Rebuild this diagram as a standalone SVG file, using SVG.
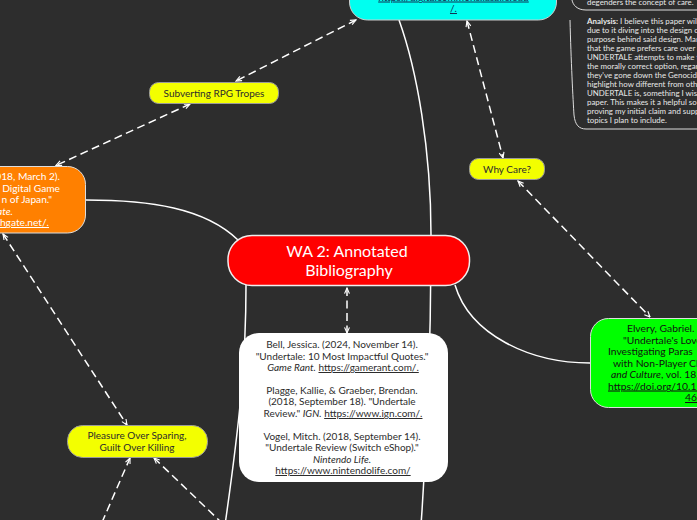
<svg xmlns="http://www.w3.org/2000/svg" width="697" height="520" viewBox="0 0 697 520">
<style>
text{font-family:"Lato","Noto Sans","Liberation Sans",sans-serif;text-anchor:middle}
.n{font-size:10px;fill:#2c2c2c}
.w{font-size:10.2px;fill:#fff;text-anchor:end}
.k{font-size:10.3px;fill:#111;text-anchor:start}
.y{fill:#f3ff00;stroke:#9a9a9a;stroke-width:1}
.a{font-size:7.9px;fill:#e8e8e8;text-anchor:start}
.c{fill:none;stroke:#fff;stroke-width:1.5}
.d{fill:none;stroke:#fff;stroke-width:1.5;stroke-dasharray:8 4.500;marker-start:url(#h);marker-end:url(#h)}
</style>
<defs>
<marker id="h" viewBox="0 0 10 10" refX="9" refY="5" markerWidth="7" markerHeight="7" markerUnits="userSpaceOnUse" orient="auto-start-reverse"><path d="M1 1.500L9 5L1 8.500" fill="none" stroke="#fff" stroke-width="1.6"/></marker>
</defs>
<rect width="697" height="520" fill="#2d2d2d"/>
<g id="connectors">
<path class="c" d="M86 200C150 200 205 208 238 240"/>
<path class="c" d="M246 285C246 360 240 420 225 525"/>
<path class="c" d="M399 20C417 70 431 150 431 235C431 300 430 400 421 525"/>
<path class="c" d="M455 285C470 335 530 363 590 363"/>
<path class="d" d="M347 288V333"/>
<path class="d" d="M467 21L503 158"/>
<path class="d" d="M518 181L650 317"/>
<path class="d" d="M356 20L236 81"/>
<path class="d" d="M190 104L56 165.500"/>
<path class="d" d="M3 234L127 425"/>
<path class="d" d="M130 458L90 550"/>
<path class="d" d="M154 458L245 545"/>
</g>
<g id="node-top">
<rect x="349.500" y="-60" width="207" height="80" rx="18" fill="#00fff0" stroke="#ccc"/>
<text font-size="10.200" fill="#135" text-decoration="underline" x="453.500" y="0.500">https://digitalcommons.lasalle.edu</text>
<text font-size="10.200" fill="#135" text-decoration="underline" x="453.500" y="12">/.</text>
</g>
<g id="node-panel">
<path d="M572 0C573 5 577 10 586 10H697" fill="none" stroke="#ddd"/>
<path d="M570 20C571 60 573 100 574 115C575 125 579 129 586 129H697" fill="none" stroke="#ddd"/>
<text class="a" x="587" y="5">degenders the concept of care.</text>
<text class="a" x="587" y="24"><tspan font-weight="700">Analysis:</tspan> I believe this paper will</text>
<text class="a" x="587" y="33">due to it diving into the design of</text>
<text class="a" x="587" y="42">purpose behind said design. Mar</text>
<text class="a" x="587" y="51">that the game prefers care over</text>
<text class="a" x="587" y="60">UNDERTALE attempts to make th</text>
<text class="a" x="587" y="69">the morally correct option, regar</text>
<text class="a" x="587" y="78">they've gone down the Genocide</text>
<text class="a" x="587" y="87">highlight how different from oth</text>
<text class="a" x="587" y="96">UNDERTALE is, something I wish</text>
<text class="a" x="587" y="105">paper. This makes it a helpful so</text>
<text class="a" x="587" y="114">proving my initial claim and supp</text>
<text class="a" x="587" y="123">topics I plan to include.</text>
</g>
<g id="node-subverting">
<rect class="y" x="149.500" y="82.500" width="129" height="21" rx="9"/>
<text class="n" x="214" y="96.500">Subverting RPG Tropes</text>
</g>
<g id="node-why">
<rect class="y" x="469.500" y="158.500" width="75" height="21" rx="9"/>
<text class="n" x="507" y="173">Why Care?</text>
</g>
<g id="node-orange">
<rect x="-60" y="166.500" width="145.500" height="66.500" rx="18" fill="#ff8000" stroke="#ddd"/>
<text class="w" x="60" y="180">018, March 2).</text>
<text class="w" x="60" y="192">Digital Game</text>
<text class="w" x="52" y="203">n of Japan."</text>
<text class="w" x="13" y="215" font-style="italic">ate.</text>
<text class="w" x="49" y="226" text-decoration="underline">hgate.net/.</text>
</g>
<g id="node-root">
<rect x="228" y="235.500" width="241.500" height="50" rx="24" fill="#ff0000" stroke="#eee" stroke-width="1.500"/>
<text x="347" y="257" font-size="16" fill="#fff">WA 2: Annotated</text>
<text x="349" y="276" font-size="16" fill="#fff">Bibliography</text>
</g>
<g id="node-refs">
<rect x="239" y="333" width="209" height="149" rx="20" fill="#fff"/>
<text class="n" x="342" y="348">Bell, Jessica. (2024, November 14).</text>
<text class="n" x="342" y="359.500">"Undertale: 10 Most Impactful Quotes."</text>
<text class="n" x="343" y="371"><tspan font-style="italic">Game Rant.</tspan> <tspan text-decoration="underline">https://gamerant.com/.</tspan></text>
<text class="n" x="342" y="394">Plagge, Kallie, &amp; Graeber, Brendan.</text>
<text class="n" x="342" y="405">(2018, September 18). "Undertale</text>
<text class="n" x="343" y="417"><tspan>Review."</tspan> <tspan font-style="italic">IGN.</tspan> <tspan text-decoration="underline">https://www.ign.com/.</tspan></text>
<text class="n" x="342" y="440">Vogel, Mitch. (2018, September 14).</text>
<text class="n" x="342" y="451">"Undertale Review (Switch eShop)."</text>
<text class="n" x="342" y="463" font-style="italic">Nintendo Life.</text>
<text class="n" x="343" y="474" text-decoration="underline">https://www.nintendolife.com/</text>
</g>
<g id="node-green">
<rect x="590.500" y="318.500" width="170" height="89" rx="18" fill="#00ff00" stroke="#ddd"/>
<text class="k" x="627" y="332">Elvery, Gabriel. (</text>
<text class="k" x="623" y="343.500">"Undertale's Love</text>
<text class="k" x="608" y="355">Investigating Paras</text>
<text class="k" x="613" y="367"><tspan>with Non-Player Ch</tspan></text>
<text class="k" x="611" y="378"><tspan font-style="italic">and Culture</tspan>, vol. 18,</text>
<text class="k" x="608" y="389.500" text-decoration="underline">https://doi.org/10.11</text>
<text class="k" x="685" y="401" text-decoration="underline">46-</text>
</g>
<g id="node-pleasure">
<rect class="y" x="67.500" y="425.500" width="140" height="32" rx="15"/>
<text class="n" x="137" y="439">Pleasure Over Sparing,</text>
<text class="n" x="137" y="451">Guilt Over Killing</text>
</g>
</svg>
